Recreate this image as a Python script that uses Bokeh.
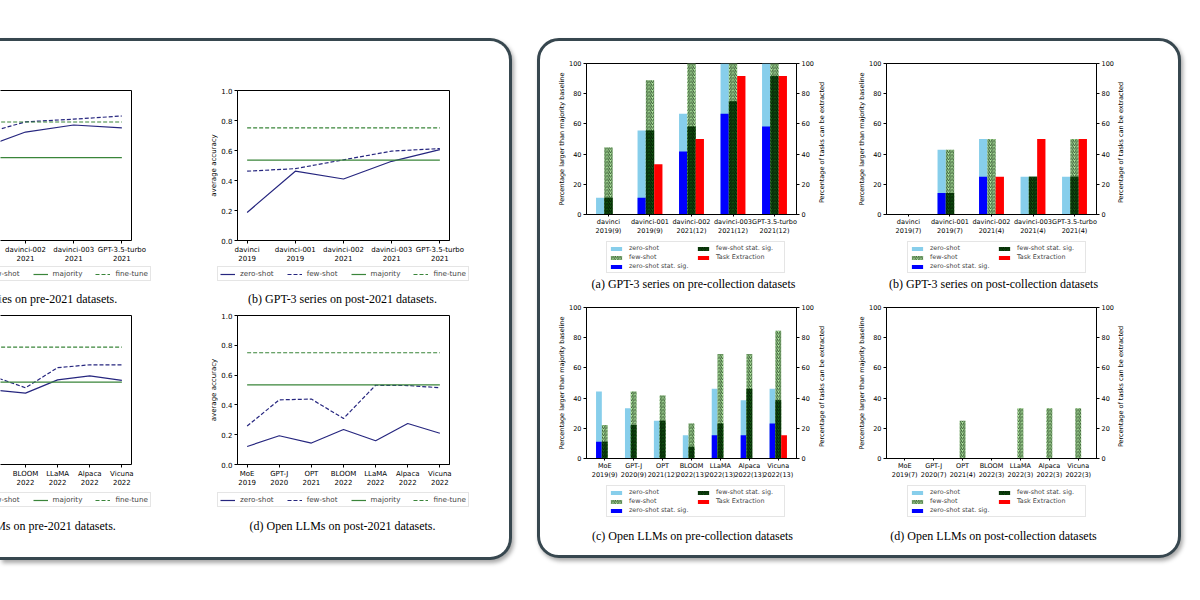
import math
from bokeh.plotting import figure
from bokeh.layouts import row, column
from bokeh.models import Legend, Label, LinearAxis, Range1d, FixedTicker, PrintfTickFormatter, Spacer
from bokeh.embed import file_html
from bokeh.resources import INLINE

FONT = "DejaVu Sans"
SERIF = "Liberation Serif"
NAVY = "#26267f"
GREEN = "#3a853a"
BORDER = "#37474f"

# ---- model names ----
gpt3_names = ["davinci", "davinci-001", "davinci-002", "davinci-003", "GPT-3.5-turbo"]
gpt3_years = ["2019", "2019", "2021", "2021", "2021"]
open_names = ["MoE", "GPT-J", "OPT", "BLOOM", "LLaMA", "Alpaca", "Vicuna"]
open_years = ["2019", "2020", "2021", "2022", "2022", "2022", "2022"]

# ---- average accuracy (left panel) ----
gpt3_pre_zero = [0.45, 0.605, 0.723, 0.770, 0.751]
gpt3_pre_few = [0.56, 0.700, 0.791, 0.809, 0.830]
gpt3_pre_majority = 0.553
gpt3_pre_finetune = 0.790

gpt3_post_zero = [0.187, 0.462, 0.410, 0.528, 0.606]
gpt3_post_few = [0.462, 0.479, 0.538, 0.596, 0.613]
gpt3_post_majority = 0.536
gpt3_post_finetune = 0.751

open_pre_zero = [0.47, 0.49, 0.500, 0.479, 0.568, 0.595, 0.564]
open_pre_few = [0.50, 0.57, 0.591, 0.515, 0.650, 0.669, 0.669]
open_pre_majority = 0.553
open_pre_finetune = 0.788

open_post_zero = [0.121, 0.193, 0.144, 0.235, 0.159, 0.275, 0.210]
open_post_few = [0.258, 0.434, 0.439, 0.309, 0.532, 0.530, 0.515]
open_post_majority = 0.534
open_post_finetune = 0.750

# ---- percentages (right panel) ----
gpt3_pre_counts = [9, 9, 12, 12, 12]
gpt3_pre_zs = [11.1, 55.6, 66.7, 100, 100]
gpt3_pre_zs_sig = [0, 11.1, 41.7, 66.7, 58.3]
gpt3_pre_fs = [44.4, 88.9, 100, 100, 100]
gpt3_pre_fs_sig = [11.1, 55.6, 58.3, 75.0, 91.7]
gpt3_pre_task = [0, 33.3, 50.0, 91.7, 91.7]

gpt3_post_counts = [7, 7, 4, 4, 4]
gpt3_post_zs = [0, 42.9, 50.0, 25.0, 25.0]
gpt3_post_zs_sig = [0, 14.3, 25.0, 0, 0]
gpt3_post_fs = [0, 42.9, 50.0, 25.0, 50.0]
gpt3_post_fs_sig = [0, 14.3, 0, 25.0, 25.0]
gpt3_post_task = [0, 0, 25.0, 50.0, 50.0]

open_pre_counts = [9, 9, 12, 13, 13, 13, 13]
open_pre_zs = [44.4, 33.3, 25.0, 15.4, 46.2, 38.5, 46.2]
open_pre_zs_sig = [11.1, 0, 0, 0, 15.4, 15.4, 23.1]
open_pre_fs = [22.2, 44.4, 41.7, 23.1, 69.2, 69.2, 84.6]
open_pre_fs_sig = [11.1, 22.2, 25.0, 7.7, 23.1, 46.2, 38.5]
open_pre_task = [0, 0, 0, 0, 0, 0, 15.4]

open_post_counts = [7, 7, 4, 3, 3, 3, 3]
open_post_zs = [0, 0, 0, 0, 0, 0, 0]
open_post_zs_sig = [0, 0, 0, 0, 0, 0, 0]
open_post_fs = [0, 0, 25.0, 0, 33.3, 33.3, 33.3]
open_post_fs_sig = [0, 0, 0, 0, 0, 0, 0]
open_post_task = [0, 0, 0, 0, 0, 0, 0]

# ---- styles shared by marks and legend swatches ----
LINE_STYLES = [
    ("zero-shot", dict(color=NAVY, line_width=1.2)),
    ("few-shot", dict(color=NAVY, line_width=1.2, line_dash="4 2")),
    ("majority", dict(color=GREEN, line_width=1.2)),
    ("fine-tune", dict(color=GREEN, line_width=1.2, line_dash="4 2")),
]
HATCH = dict(hatch_pattern="/", hatch_scale=3.5, hatch_weight=0.8)
BAR_STYLES = [
    ("zero-shot", dict(fill_color="skyblue", line_color=None)),
    ("few-shot", dict(fill_color="#b2eca2", line_color=None, hatch_color="#142814", **HATCH)),
    ("zero-shot stat. sig.", dict(fill_color="blue", line_color=None)),
    ("few-shot stat. sig.", dict(fill_color="#115e11", line_color=None, hatch_color="black", **HATCH)),
    ("Task Extraction", dict(fill_color="red", line_color=None)),
]


def style_axis(ax, size):
    ax.major_label_text_font = FONT
    ax.major_label_text_font_size = size
    ax.major_label_text_color = "black"
    ax.axis_label_text_font = FONT
    ax.axis_label_text_font_size = size
    ax.axis_label_text_font_style = "normal"
    ax.axis_label_text_color = "black"
    ax.axis_line_color = "black"
    ax.major_tick_line_color = "black"
    ax.minor_tick_line_color = None
    ax.major_tick_in = 0
    ax.major_tick_out = 3
    ax.major_label_standoff = 2
    ax.axis_label_standoff = 0


def blank_fig(width, height):
    # frame covers the whole canvas, data units are pixels
    p = figure(width=width, height=height, x_range=(0, width), y_range=(0, height),
               min_border=0, x_axis_location=None, y_axis_location=None,
               output_backend="svg", toolbar_location=None, tools="")
    p.frame_align = False
    p.grid.visible = False
    p.outline_line_color = None
    p.background_fill_color = None
    p.border_fill_color = None
    return p


def make_fig(width, height, borders, x_range, y_range, y_loc="left"):
    mbl, mbr, mbt, mbb = borders
    p = figure(width=width, height=height, x_range=x_range, y_range=y_range,
               min_border_left=mbl, min_border_right=mbr,
               min_border_top=mbt, min_border_bottom=mbb,
               y_axis_location=y_loc, output_backend="svg",
               toolbar_location=None, tools="")
    p.frame_align = False
    p.grid.visible = False
    p.outline_line_color = "black"
    p.outline_line_width = 1
    p.background_fill_color = None
    p.border_fill_color = None
    return p


def key_fig(width, height, kind, legend_xy, caption, caption_xy):
    # legend box and sub-caption below a chart
    p = blank_fig(width, height)
    items = []
    if kind == "line":
        for label, st in LINE_STYLES:
            items.append((label, [p.line([0], [0], **st)]))
        kw = dict(orientation="horizontal", padding=2, spacing=13, glyph_width=15,
                  glyph_height=8, label_height=8, label_standoff=5,
                  label_text_font_size="7.2px")
    else:
        for label, st in BAR_STYLES:
            items.append((label, [p.vbar(x=[0], top=[0], width=1, **st)]))
        kw = dict(orientation="vertical", nrows=3, padding=2, spacing=1, glyph_width=14,
                  glyph_height=5, label_height=8, label_width=66, label_standoff=6,
                  label_text_font_size="6.4px")
    leg = Legend(items=items, location=legend_xy, margin=0, label_text_font=FONT,
                 border_line_color="#cccccc", border_line_width=0.8,
                 background_fill_color="white", **kw)
    p.add_layout(leg, "center")
    p.add_layout(Label(x=caption_xy[0], y=caption_xy[1], text=caption,
                       text_align="center", text_baseline="middle",
                       text_font=SERIF, text_font_size="12px", text_color="black"))
    return p


def side_label(width, height, text, x, y):
    # right-hand axis title, read from bottom to top
    p = blank_fig(width, height)
    p.add_layout(Label(x=x, y=y, text=text, angle=math.pi / 2, text_align="center",
                       text_baseline="middle", text_font=FONT, text_font_size="6.5px",
                       text_color="black"))
    return p


def line_chart(names, years, zero, few, majority, finetune,
               width, height, borders, x_start=None):
    n = len(names)
    pad = 0.05 * (n - 1)
    clipped = x_start is not None
    p = make_fig(width, height, borders,
                 (x_start if clipped else -pad, n - 1 + pad), (0, 1),
                 y_loc=None if clipped else "left")
    xax = p.below[0]
    style_axis(xax, "7px")
    xax.ticker = FixedTicker(ticks=list(range(n)))
    xax.major_label_overrides = {i: f"{nm}\n{yr}" for i, (nm, yr) in enumerate(zip(names, years))}
    if clipped:
        # left part of this chart lies outside the picture: draw only top/right spines
        p.outline_line_color = None
        for loc in ("above", "right"):
            ax = LinearAxis(ticker=FixedTicker(ticks=[]), axis_line_color="black",
                            major_tick_line_color=None, minor_tick_line_color=None)
            p.add_layout(ax, loc)
    else:
        yax = p.left[0]
        style_axis(yax, "7px")
        yax.ticker = FixedTicker(ticks=[0, 0.2, 0.4, 0.6, 0.8, 1.0])
        yax.formatter = PrintfTickFormatter(format="%.1f")
        yax.axis_label = "average accuracy"

    xs = list(range(n))
    series = [zero, few, [majority] * n, [finetune] * n]
    for (label, st), ys in zip(LINE_STYLES, series):
        p.line(xs, ys, **st)
    return p


def bar_chart(names, years, counts, zs, zs_sig, fs, fs_sig, task,
              width, height, borders):
    n = len(names)
    pad = 0.3 + 0.05 * (n - 0.4)
    p = make_fig(width, height, borders, (-pad, n - 1 + pad), (0, 100))
    p.extra_y_ranges = {"task": Range1d(0, 100)}
    xax = p.below[0]
    style_axis(xax, "6.5px")
    xax.major_tick_out = 2
    xax.major_label_standoff = 1
    xax.ticker = FixedTicker(ticks=list(range(n)))
    xax.major_label_overrides = {i: f"{nm}\n{yr}({c})" for i, (nm, yr, c)
                                 in enumerate(zip(names, years, counts))}
    yax = p.left[0]
    style_axis(yax, "6.5px")
    yax.ticker = FixedTicker(ticks=[0, 20, 40, 60, 80, 100])
    yax.axis_label = "Percentage larger than majority baseline"
    rax = LinearAxis(y_range_name="task", ticker=FixedTicker(ticks=[0, 20, 40, 60, 80, 100]))
    style_axis(rax, "6.5px")
    p.add_layout(rax, "right")

    xs = list(range(n))
    x_zero = [x - 0.2 for x in xs]
    x_task = [x + 0.2 for x in xs]
    st = dict(BAR_STYLES)
    p.vbar(x=x_zero, top=zs, width=0.2, **st["zero-shot"])
    p.vbar(x=x_zero, top=zs_sig, width=0.2, **st["zero-shot stat. sig."])
    p.vbar(x=xs, top=fs, width=0.2, **st["few-shot"])
    p.vbar(x=xs, top=fs_sig, width=0.2, **st["few-shot stat. sig."])
    p.vbar(x=x_task, top=task, width=0.2, y_range_name="task", **st["Task Extraction"])
    return p


# ---- left panel: line charts ----
fa = line_chart(gpt3_names, gpt3_years, gpt3_pre_zero, gpt3_pre_few, gpt3_pre_majority,
                gpt3_pre_finetune, 184, 225, (0, 53, 49, 19), x_start=1.481)
fb = line_chart(gpt3_names, gpt3_years, gpt3_post_zero, gpt3_post_few, gpt3_post_majority,
                gpt3_post_finetune, 325, 225, (53, 60, 49, 19))
fc = line_chart(open_names, open_years, open_pre_zero, open_pre_few, open_pre_majority,
                open_pre_finetune, 184, 182, (0, 53, 7, 18), x_start=2.222)
fd = line_chart(open_names, open_years, open_post_zero, open_post_few, open_post_majority,
                open_post_finetune, 325, 182, (53, 60, 7, 18))

ka = key_fig(184, 42, "line", (-101, 27), "(a) GPT-3 series on pre-2021 datasets.", (25, 10))
kb = key_fig(325, 42, "line", (33, 27), "(b) GPT-3 series on post-2021 datasets.", (158, 10))
kc = key_fig(184, 67, "line", (-101, 50), "(c) Open LLMs on pre-2021 datasets.", (25, 32))
kd = key_fig(325, 67, "line", (33, 50), "(d) Open LLMs on post-2021 datasets.", (158, 32))

# ---- right panel: bar charts ----
RIGHT_TITLE = "Percentage of tasks can be extracted"
ra = bar_chart(gpt3_names, gpt3_years, gpt3_pre_counts, gpt3_pre_zs, gpt3_pre_zs_sig,
               gpt3_pre_fs, gpt3_pre_fs_sig, gpt3_pre_task, 276, 197, (46, 18, 22, 17))
rb = bar_chart(gpt3_names, gpt3_years, gpt3_post_counts, gpt3_post_zs, gpt3_post_zs_sig,
               gpt3_post_fs, gpt3_post_fs_sig, gpt3_post_task, 287, 197, (57, 18, 22, 17))
rc = bar_chart(open_names, open_years, open_pre_counts, open_pre_zs, open_pre_zs_sig,
               open_pre_fs, open_pre_fs_sig, open_pre_task, 276, 186, (46, 18, 11, 17))
rd = bar_chart(open_names, open_years, open_post_counts, open_post_zs, open_post_zs_sig,
               open_post_fs, open_post_fs_sig, open_post_task, 287, 186, (57, 18, 11, 17))
sa = side_label(13, 197, RIGHT_TITLE, 5, 96)
sb = side_label(62, 197, RIGHT_TITLE, 4, 96)
sc = side_label(13, 186, RIGHT_TITLE, 5, 96)
sd = side_label(62, 186, RIGHT_TITLE, 4, 96)

kra = key_fig(289, 58, "bar", (66, 23), "(a) GPT-3 series on pre-collection datasets", (153, 13))
krb = key_fig(349, 58, "bar", (78, 23), "(b) GPT-3 series on post-collection datasets", (164, 13))
krc = key_fig(289, 73, "bar", (66, 38), "(c) Open LLMs on pre-collection datasets", (152, 20))
krd = key_fig(349, 73, "bar", (78, 38), "(d) Open LLMs on post-collection datasets", (164, 20))

edge = f"3px solid {BORDER}"
shadow = "2px 3px 4px rgba(0,0,0,0.35)"
left_panel = column(row(fa, fb), row(ka, kb), row(fc, fd), row(kc, kd),
                    styles={"border-top": edge, "border-right": edge, "border-bottom": edge,
                            "border-radius": "0px 22px 22px 0px",
                            "background-color": "white", "box-shadow": shadow})
right_panel = column(row(ra, sa, rb, sb), row(kra, krb), row(rc, sc, rd, sd), row(krc, krd),
                     styles={"border": edge, "border-radius": "22px",
                             "background-color": "white", "box-shadow": shadow})

page = column(Spacer(height=38), row(left_panel, Spacer(width=25), right_panel))

open("out.html", "w").write(file_html(page, INLINE))
